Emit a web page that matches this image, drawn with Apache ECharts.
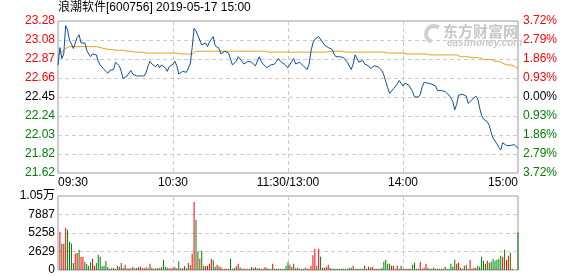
<!DOCTYPE html>
<html><head><meta charset="utf-8">
<script src="https://cdn.jsdelivr.net/npm/echarts@6/dist/echarts.min.js"></script>
<style>html,body{margin:0;padding:0;background:#fff}#c{width:578px;height:276px}</style>
</head><body><div id="c"></div>
<script>
// ---------- data ----------
const titleText = '浪潮软件[600756] 2019-05-17 15:00';
const timeLabels = ['09:30', '10:30', '11:30/13:00', '14:00', '15:00'];
// bottom -> top
const priceTickLabels = ['21.62', '21.82', '22.03', '22.24', '22.45', '22.66', '22.87', '23.08', '23.28'];
const pctTickLabels = ['3.72%', '2.79%', '1.86%', '0.93%', '0.00%', '0.93%', '1.86%', '2.79%', '3.72%'];
const volTickLabels = ['0', '2629', '5258', '7887', '1.05万'];

const price = [
  22.80, 22.99, 22.87, 22.92, 23.23, 23.18, 23.07, 23.03, 22.98, 22.98,
  23.10, 23.13, 23.04, 23.05, 23.04, 22.96, 22.92, 22.89, 22.92, 22.93,
  22.91, 22.84, 22.80, 22.78, 22.75, 22.73, 22.71, 22.74, 22.76, 22.75,
  22.83, 22.82, 22.79, 22.73, 22.65, 22.67, 22.68, 22.70, 22.74, 22.70,
  22.68, 22.68, 22.68, 22.68, 22.69, 22.68, 22.72, 22.79, 22.84, 22.81,
  22.80, 22.78, 22.81, 22.77, 22.80, 22.79, 22.77, 22.73, 22.78, 22.77,
  22.81, 22.84, 22.79, 22.70, 22.72, 22.73, 22.73, 22.72, 22.71, 22.81,
  22.99, 23.20, 23.17, 23.12, 23.10, 23.02, 23.03, 23.04, 23.00, 23.05,
  23.08, 23.11, 23.01, 23.00, 22.98, 22.92, 22.91, 22.95, 22.97, 22.93,
  22.91, 22.80, 22.80, 22.84, 22.89, 22.88, 22.84, 22.81, 22.82, 22.84,
  22.83, 22.83, 22.81, 22.79, 22.81, 22.89, 22.84, 22.81, 22.79, 22.77,
  22.79, 22.80, 22.80, 22.81, 22.84, 22.87, 22.84, 22.83, 22.81, 22.80,
  22.77, 22.76, 22.84, 22.87, 22.81, 22.81, 22.83, 22.84, 22.79, 22.77,
  22.75, 22.81, 22.95, 23.04, 23.08, 23.07, 23.11, 23.13, 23.05, 23.02,
  23.00, 22.99, 22.99, 22.97, 22.92, 22.89, 22.90, 22.89, 22.89, 22.88,
  22.87, 22.83, 22.81, 22.75, 22.81, 22.91, 22.93, 22.83, 22.81, 22.85,
  22.81, 22.79, 22.79, 22.76, 22.78, 22.79, 22.79, 22.78, 22.76, 22.74,
  22.69, 22.62, 22.55, 22.49, 22.49, 22.54, 22.54, 22.59, 22.63, 22.61,
  22.57, 22.60, 22.58, 22.58, 22.57, 22.51, 22.45, 22.44, 22.45, 22.48,
  22.56, 22.61, 22.62, 22.60, 22.59, 22.59, 22.58, 22.57, 22.52, 22.52,
  22.52, 22.53, 22.51, 22.49, 22.47, 22.44, 22.40, 22.31, 22.37, 22.47,
  22.47, 22.48, 22.48, 22.46, 22.38, 22.39, 22.42, 22.42, 22.46, 22.43,
  22.33, 22.25, 22.21, 22.20, 22.18, 22.14, 22.06, 22.00, 21.98, 21.94,
  21.90, 21.87, 21.95, 21.93, 21.92, 21.94, 21.92, 21.93, 21.93, 21.91,
  21.89
];

const avgPrice = [
  22.90, 22.92, 22.94, 22.96, 22.98, 22.99, 23.00, 23.00, 23.00, 23.00,
  23.00, 23.00, 23.00, 23.00, 23.00, 23.00, 23.00, 23.00, 23.00, 23.00,
  23.00, 22.99, 22.99, 22.98, 22.98, 22.98, 22.97, 22.97, 22.97, 22.97,
  22.96, 22.96, 22.96, 22.96, 22.96, 22.95, 22.95, 22.95, 22.95, 22.94,
  22.94, 22.94, 22.94, 22.94, 22.94, 22.94, 22.93, 22.93, 22.93, 22.93,
  22.93, 22.93, 22.93, 22.93, 22.93, 22.93, 22.93, 22.93, 22.93, 22.93,
  22.93, 22.93, 22.93, 22.93, 22.92, 22.92, 22.92, 22.92, 22.92, 22.92,
  22.92, 22.93, 22.95, 22.95, 22.95, 22.95, 22.95, 22.95, 22.95, 22.95,
  22.95, 22.95, 22.95, 22.95, 22.95, 22.95, 22.95, 22.95, 22.95, 22.95,
  22.95, 22.95, 22.95, 22.95, 22.95, 22.95, 22.95, 22.95, 22.95, 22.95,
  22.95, 22.95, 22.95, 22.95, 22.95, 22.95, 22.95, 22.95, 22.95, 22.95,
  22.94, 22.94, 22.94, 22.94, 22.94, 22.94, 22.94, 22.94, 22.94, 22.94,
  22.94, 22.94, 22.94, 22.94, 22.94, 22.94, 22.94, 22.94, 22.94, 22.94,
  22.94, 22.94, 22.94, 22.94, 22.94, 22.94, 22.94, 22.94, 22.94, 22.94,
  22.94, 22.94, 22.95, 22.95, 22.95, 22.95, 22.95, 22.95, 22.95, 22.95,
  22.94, 22.94, 22.94, 22.94, 22.94, 22.94, 22.94, 22.94, 22.94, 22.94,
  22.94, 22.94, 22.94, 22.94, 22.94, 22.94, 22.94, 22.94, 22.94, 22.94,
  22.94, 22.93, 22.93, 22.93, 22.93, 22.93, 22.93, 22.93, 22.93, 22.93,
  22.93, 22.92, 22.92, 22.92, 22.92, 22.92, 22.92, 22.92, 22.92, 22.92,
  22.92, 22.92, 22.92, 22.91, 22.91, 22.91, 22.91, 22.91, 22.91, 22.91,
  22.91, 22.91, 22.91, 22.91, 22.91, 22.91, 22.91, 22.91, 22.91, 22.89,
  22.89, 22.89, 22.89, 22.89, 22.89, 22.89, 22.88, 22.88, 22.88, 22.88,
  22.88, 22.86, 22.86, 22.86, 22.86, 22.86, 22.86, 22.84, 22.84, 22.84,
  22.84, 22.82, 22.82, 22.82, 22.80, 22.80, 22.80, 22.79, 22.79, 22.77,
  22.76
];

const volume = [
  0, 5430, 3730, 3730, 5990, 5710, 4010, 3780, 990, 2310,
  2410, 2880, 1890, 1890, 1180, 900, 610, 1090, 1600, 610,
  990, 2170, 1890, 520, 610, 1320, 420, 140, 240, 280,
  140, 570, 420, 990, 280, 750, 240, 240, 240, 470,
  240, 280, 380, 470, 240, 240, 380, 240, 900, 330,
  190, 240, 240, 240, 380, 1460, 470, 330, 240, 240,
  330, 380, 240, 1230, 240, 240, 520, 240, 990, 710,
  2310, 9680, 7130, 2640, 1600, 2740, 610, 520, 610, 900,
  1560, 1370, 470, 750, 520, 380, 190, 190, 190, 190,
  1600, 190, 280, 520, 900, 380, 190, 190, 190, 190,
  190, 430, 240, 380, 240, 240, 190, 190, 430, 280,
  190, 190, 900, 190, 190, 190, 190, 190, 190, 610,
  1090, 750, 470, 900, 240, 330, 190, 190, 190, 330,
  190, 190, 610, 2080, 3020, 610, 3020, 1890, 330, 330,
  470, 750, 280, 190, 190, 190, 190, 190, 190, 190,
  190, 190, 330, 330, 610, 190, 190, 190, 190, 190,
  610, 190, 470, 330, 470, 190, 190, 190, 190, 330,
  1180, 1460, 900, 900, 610, 610, 190, 610, 190, 610,
  190, 190, 190, 190, 190, 750, 1040, 190, 190, 1180,
  190, 330, 900, 330, 190, 190, 330, 190, 190, 190,
  190, 190, 470, 190, 190, 900, 470, 1460, 900, 1040,
  330, 190, 610, 750, 190, 1460, 190, 330, 330, 610,
  470, 1890, 1320, 900, 1320, 1040, 1180, 1600, 1320, 1460,
  1600, 2030, 1890, 2880, 1460, 2030, 2450, 190, 0, 0,
  5330
];
// 1 = up (red), -1 = down (green)
const volumeDir = [
  1, 1, -1, 1, 1, -1, -1, -1, -1, 1,
  1, -1, 1, 1, -1, -1, -1, -1, 1, 1,
  -1, -1, -1, -1, -1, -1, -1, 1, -1, -1,
  1, -1, 1, -1, -1, 1, -1, 1, 1, -1,
  1, -1, 1, 1, 1, -1, 1, -1, 1, -1,
  -1, -1, 1, -1, 1, -1, -1, -1, 1, 1,
  1, -1, 1, -1, -1, 1, 1, -1, -1, 1,
  1, 1, -1, -1, 1, -1, -1, 1, 1, 1,
  1, -1, -1, 1, -1, 1, -1, 1, 1, 1,
  -1, -1, 1, -1, 1, -1, -1, 1, 1, 1,
  -1, -1, 1, 1, -1, -1, 1, -1, 1, 1,
  -1, -1, 1, -1, 1, -1, -1, 1, -1, -1,
  -1, 1, 1, -1, -1, 1, -1, -1, -1, -1,
  1, 1, 1, 1, 1, -1, 1, -1, 1, -1,
  1, 1, 1, -1, -1, -1, -1, -1, -1, -1,
  -1, -1, -1, -1, 1, -1, -1, -1, -1, -1,
  1, -1, -1, 1, 1, 1, 1, -1, 1, -1,
  -1, -1, -1, -1, 1, 1, -1, 1, 1, -1,
  1, 1, 1, -1, -1, -1, -1, 1, -1, 1,
  -1, 1, 1, -1, -1, -1, 1, -1, -1, -1,
  1, 1, -1, -1, -1, -1, -1, -1, 1, 1,
  -1, -1, 1, -1, -1, 1, -1, 1, 1, -1,
  -1, -1, -1, -1, 1, -1, -1, -1, -1, -1,
  -1, -1, 1, -1, 1, 1, -1, 1, -1, -1,
  -1
];

// ---------- chart ----------
const FONT = "'Liberation Sans', 'Noto Sans CJK SC', sans-serif";
const RED = '#ff0000', GREEN = '#008000', BLACK = '#000000';
const PMIN = 21.62, PMAX = 23.28, PINT = 0.2075;
const VMAX = 10516, VINT = 2629;
const N = price.length - 1;

const rich = {
  r: { color: RED, fontSize: 12, fontFamily: FONT },
  k: { color: BLACK, fontSize: 12, fontFamily: FONT },
  g: { color: GREEN, fontSize: 12, fontFamily: FONT }
};
function tickIdx(v, min, step) { return Math.round((v - min) / step); }
function styleFor(i) { return i > 4 ? 'r' : (i === 4 ? 'k' : 'g'); }

const dashed = { show: true, lineStyle: { color: '#cccccc', type: [4, 3], width: 1 } };

const chart = echarts.init(document.getElementById('c'), null, { renderer: 'canvas' });
chart.setOption({
  animation: false,
  backgroundColor: '#ffffff',
  textStyle: { fontFamily: FONT },
  grid: [
    { left: 58, right: 60, top: 21, height: 152, show: true, borderColor: '#999999', borderWidth: 1, containLabel: false },
    { left: 58, right: 60, top: 196, height: 74, show: true, borderColor: '#999999', borderWidth: 1, containLabel: false }
  ],
  xAxis: [
    {
      type: 'value', gridIndex: 0, min: 0, max: N, interval: 60,
      axisLine: { show: false }, axisTick: { show: false },
      splitLine: dashed,
      axisLabel: {
        show: true, color: BLACK, fontSize: 12, fontFamily: FONT, margin: 4,
        formatter: (v) => timeLabels[Math.round(v / 60)] || '',
        alignMinLabel: 'left', alignMaxLabel: 'right'
      }
    },
    {
      type: 'value', gridIndex: 1, min: 0, max: N, interval: 60,
      axisLine: { show: false }, axisTick: { show: false },
      splitLine: dashed, axisLabel: { show: false }
    }
  ],
  yAxis: [
    {
      type: 'value', gridIndex: 0, min: PMIN, max: PMAX, interval: PINT, position: 'left',
      axisLine: { show: false }, axisTick: { show: false },
      splitLine: dashed,
      axisLabel: {
        margin: 3, rich,
        formatter: (v) => { const i = tickIdx(v, PMIN, PINT); return '{' + styleFor(i) + '|' + priceTickLabels[i] + '}'; }
      }
    },
    {
      type: 'value', gridIndex: 0, min: PMIN, max: PMAX, interval: PINT, position: 'right',
      axisLine: { show: false }, axisTick: { show: false }, splitLine: { show: false },
      axisLabel: {
        margin: 5, rich,
        formatter: (v) => { const i = tickIdx(v, PMIN, PINT); return '{' + styleFor(i) + '|' + pctTickLabels[i] + '}'; }
      }
    },
    {
      type: 'value', gridIndex: 1, min: 0, max: VMAX, interval: VINT, position: 'left',
      axisLine: { show: false }, axisTick: { show: false },
      splitLine: dashed,
      axisLabel: {
        margin: 3, color: BLACK, fontSize: 12, fontFamily: FONT,
        formatter: (v) => volTickLabels[tickIdx(v, 0, VINT)] || ''
      }
    }
  ],
  series: [
    {
      type: 'line', xAxisIndex: 0, yAxisIndex: 0, showSymbol: false, symbol: 'none',
      data: avgPrice.map((p, i) => [i, p]),
      lineStyle: { color: '#e0a118', width: 1 }, z: 2
    },
    {
      type: 'line', xAxisIndex: 0, yAxisIndex: 0, showSymbol: false, symbol: 'none',
      data: price.map((p, i) => [i, p]),
      lineStyle: { color: '#0d4fa3', width: 1 }, z: 3
    },
    {
      type: 'bar', xAxisIndex: 1, yAxisIndex: 2, barWidth: 1,
      data: volume.map((v, i) => ({ value: [i, v], itemStyle: { color: volumeDir[i] > 0 ? RED : GREEN } }))
    }
  ],
  graphic: [
    {
      type: 'text', left: 58, top: 2,
      style: { text: titleText, fill: '#000', font: "12px " + FONT }
    },
    {
      type: 'arc', shape: { cx: 434, cy: 34, r: 8, startAngle: Math.PI * 0.6, endAngle: Math.PI * 1.7 },
      style: { stroke: '#d0d0d0', lineWidth: 4, fill: null }, z: 0
    },
    {
      type: 'text', left: 443, top: 24,
      style: { text: '东方财富网', fill: '#c8c8c8', font: "bold 15px 'Noto Sans CJK SC'" }, z: 0
    },
    {
      type: 'text', left: 447, top: 38,
      style: { text: 'eastmoney.com', fill: '#c8c8c8', font: "italic bold 10px " + FONT }, z: 0
    }
  ]
});
</script>
</body></html>
